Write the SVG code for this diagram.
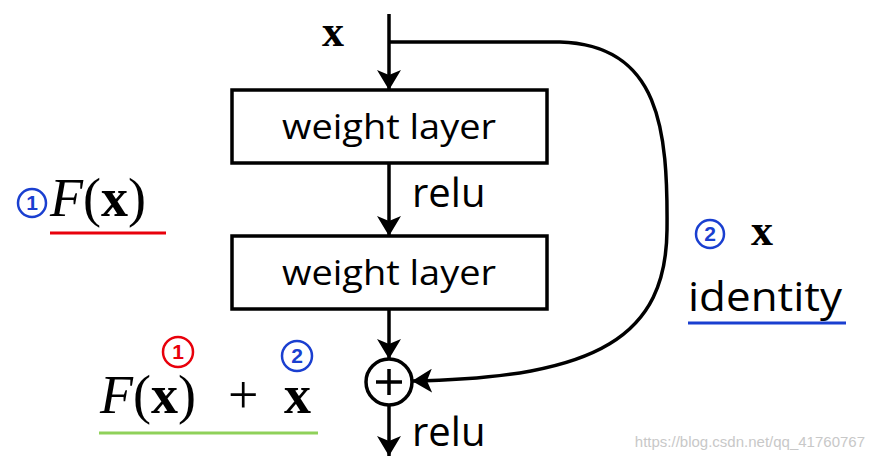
<svg xmlns="http://www.w3.org/2000/svg" width="876" height="463" viewBox="0 0 876 463">
<defs>
<marker id="a" viewBox="0 0 20 24" refX="20" refY="12" markerWidth="20" markerHeight="24" markerUnits="userSpaceOnUse" orient="auto"><path d="M0,0 L20,12 L0,24 L5,12 z" fill="#000"/></marker>
</defs>
<style>
.box{fill:#fff;stroke:#000;stroke-width:3.5}
.lbl{font-family:"Open Sans","Liberation Sans",sans-serif;fill:#000}
.m{font-family:"Liberation Serif","DejaVu Serif",serif;fill:#000}
.ln{fill:none;stroke:#000;stroke-width:3.5}
.cn{fill:none;stroke-width:2.5}
.cd{font-family:"Liberation Sans",sans-serif;font-weight:bold;font-size:21px;text-anchor:middle}
</style>
<g id="connectors">
<line class="ln" x1="389" y1="14" x2="389" y2="90" marker-end="url(#a)"/>
<line class="ln" x1="389" y1="163" x2="389" y2="236" marker-end="url(#a)"/>
<line class="ln" x1="389" y1="309" x2="389" y2="359" marker-end="url(#a)"/>
<line class="ln" x1="389" y1="405" x2="389" y2="456" marker-end="url(#a)"/>
<path class="ln" d="M389,42 L560,42 C660,45 668,130 667,230 C666,335 600,378 412,381" marker-end="url(#a)"/>
</g>
<g id="x-input"><text class="m" x="333" y="46" font-size="44" font-weight="bold" text-anchor="middle">x</text></g>
<g id="layer1"><rect class="box" x="232" y="90" width="315" height="73"/><text class="lbl" x="389" y="139" font-size="35" text-anchor="middle" textLength="214" lengthAdjust="spacingAndGlyphs">weight layer</text></g>
<g id="relu1"><text class="lbl" x="412" y="207" font-size="40">relu</text></g>
<g id="layer2"><rect class="box" x="232" y="236" width="315" height="73"/><text class="lbl" x="389" y="285" font-size="35" text-anchor="middle" textLength="214" lengthAdjust="spacingAndGlyphs">weight layer</text></g>
<g id="plus"><circle cx="389" cy="382" r="23" fill="#fff" stroke="#000" stroke-width="3.5"/><path d="M376,382 H402 M389,369 V395" stroke="#000" stroke-width="3.5"/></g>
<g id="relu2"><text class="lbl" x="412" y="446" font-size="40">relu</text></g>
<g id="identity">
<circle class="cn" cx="710" cy="234" r="14" stroke="#1a3fd0"/><text class="cd" x="710" y="241" fill="#1a3fd0">2</text>
<text class="m" x="762" y="245" font-size="44" font-weight="bold" text-anchor="middle">x</text>
<text class="lbl" x="688" y="311" font-size="40" textLength="154" lengthAdjust="spacingAndGlyphs">identity</text>
<line x1="688" y1="323" x2="846" y2="323" stroke="#1a3fd0" stroke-width="3"/>
</g>
<g id="fx">
<circle class="cn" cx="32" cy="203" r="14" stroke="#1a3fd0"/><text class="cd" x="32" y="210" fill="#1a3fd0">1</text>
<text class="m" x="50" y="216" font-size="54"><tspan font-style="italic">F</tspan><tspan font-weight="normal">(</tspan><tspan font-weight="bold">x</tspan><tspan>)</tspan></text>
<line x1="50" y1="233" x2="166" y2="233" stroke="#e8000b" stroke-width="3"/>
</g>
<g id="sum">
<circle class="cn" cx="178" cy="352" r="15" stroke="#e8000b"/><text class="cd" x="178" y="359" fill="#e8000b">1</text>
<circle class="cn" cx="297" cy="356" r="15" stroke="#1a3fd0"/><text class="cd" x="297" y="363" fill="#1a3fd0">2</text>
<text class="m" x="100" y="413" font-size="54"><tspan font-style="italic">F</tspan>(<tspan font-weight="bold">x</tspan>)<tspan x="228">+</tspan><tspan x="284" font-weight="bold">x</tspan></text>
<line x1="99" y1="433" x2="318" y2="433" stroke="#8fd15a" stroke-width="3"/>
</g>
<text x="865" y="447" font-family="Liberation Sans,sans-serif" font-size="15" fill="#c8c8c8" text-anchor="end">https://blog.csdn.net/qq_41760767</text>
</svg>
